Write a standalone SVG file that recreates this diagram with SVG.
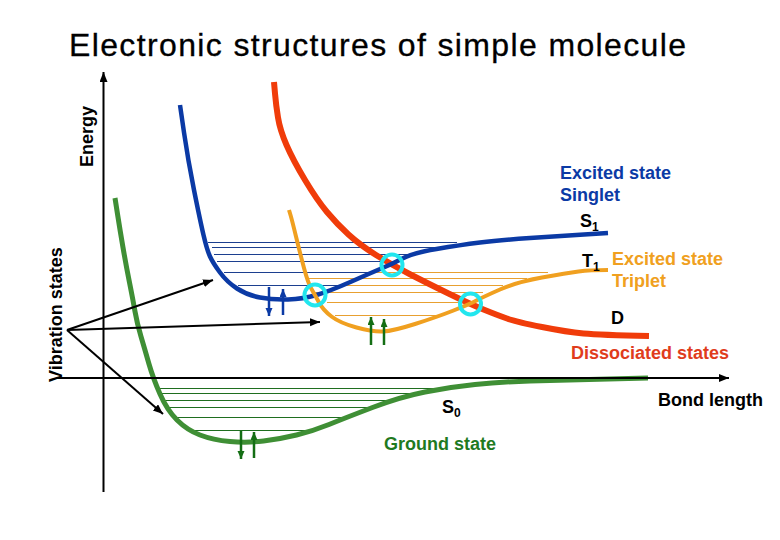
<svg xmlns="http://www.w3.org/2000/svg" width="780" height="540" viewBox="0 0 780 540">
<style>
text{font-family:"Liberation Sans",Arial,sans-serif;font-weight:bold;font-size:18px}
.t{font-weight:normal;font-size:32px;fill:#000;stroke:#000;stroke-width:.3}
.k{fill:#000}
.b{fill:#0b3aa5}.o{fill:#f0a020}.r{fill:#e03c1c}.g{fill:#1f7a1f}
.s{font-size:12px}
.curve{fill:none;stroke-linecap:butt;stroke-linejoin:round}
.lv{stroke-width:1;fill:none}
.ax{stroke:#000;stroke-width:2;fill:none}
.ring{fill:none;stroke:#22e6ee;stroke-width:4}
</style>
<defs>
<marker id="ah" markerUnits="userSpaceOnUse" markerWidth="12" markerHeight="10" refX="10" refY="4" orient="auto"><path d="M0 0L10 4L0 8Z" fill="#000"/></marker>
<marker id="ab" markerUnits="userSpaceOnUse" markerWidth="10" markerHeight="10" refX="8" refY="3.5" orient="auto"><path d="M0 0L8 3.5L0 7Z" fill="#0b3aa5"/></marker>
<marker id="ag" markerUnits="userSpaceOnUse" markerWidth="10" markerHeight="10" refX="8" refY="3.5" orient="auto"><path d="M0 0L8 3.5L0 7Z" fill="#146e14"/></marker>
</defs>
<g id="title"><text class="t" x="69" y="56" textLength="617" lengthAdjust="spacing">Electronic structures of simple molecule</text></g>
<g id="levels">
<path class="lv" stroke="#e8a030" d="M305 272.500H548M307 278.500H527M310 285.500H503M315 292.500H483M327 302.500H465M335 315.500H437"/>
<path class="lv" stroke="#1f6e1f" d="M158 388.500H447M160 393.500H420M162 400.500H395M166 407.500H375M172 417.500H345M193 430.500H310"/>
<path class="lv" stroke="#1c3f8f" d="M208 242.500H457M212 247.500H440M214 254.500H412M217 261.500H395M224 272.500H375M238 285.500H340"/>
</g>
<g id="curves">
<path id="green-curve" class="curve" stroke="#3f8f35" stroke-width="5" d="M115 198L117.500 214Q120 230 123 247.500Q126 265 129.500 282.500Q133 300 135 311.500Q137 323 141 336.500Q145 350 149 364Q153 378 160 394Q167 410 177 420Q187 430 200 435Q213 440 230 441.500Q247 443 263.500 441Q280 439 296.500 435Q313 431 329 424.500Q345 418 372.500 407.500Q400 397 425 392Q450 387 475 384.500Q500 382 530 381Q560 380 648 378"/>
<path id="red-curve" class="curve" stroke="#f03c0a" stroke-width="6" d="M274 82L275 93.500Q276 105 278 117.500Q280 130 286.500 145Q293 160 305 180Q317 200 327 212Q337 224 348.500 234.500Q360 245 376 255Q392 265 409.500 274Q427 283 448.500 293.500Q470 304 483.500 309.500Q497 315 507 318.500Q517 322 542 327Q567 332 583.500 333.500Q600 335 649 336"/>
<path id="blue-curve" class="curve" stroke="#0b3aa5" stroke-width="4.500" d="M180 105L184 132.500Q188 160 194 190Q200 220 203.500 235Q207 250 210 256.500Q213 263 220 272.500Q227 282 237 288.500Q247 295 260 297.500Q273 300 288 299.500Q303 299 316.500 295Q330 291 351.500 281.500Q373 272 382.500 268Q392 264 402.500 258.500Q413 253 436.500 249Q460 245 480 242.500Q500 240 530 238Q560 236 584 234.500L608 233"/>
<path id="orange-curve" class="curve" stroke="#f0a020" stroke-width="4" d="M289 210L290.500 215Q292 220 296 236.500Q300 253 304 268Q308 283 311.500 289Q315 295 319 302.500Q323 310 331.500 316.500Q340 323 356.500 327.500Q373 332 383 331.500Q393 331 415 324Q437 317 453.500 310.500Q470 304 476.500 300.500Q483 297 500 289.500Q517 282 542 277.500Q567 273 578.500 271.500Q590 270 608 270"/>
</g>
<g id="rings">
<circle class="ring" cx="392" cy="265" r="10.500"/>
<circle class="ring" cx="315" cy="295" r="10.500"/>
<circle class="ring" cx="470.500" cy="304" r="10.500"/>
</g>
<g id="connectors">
<path class="ax" marker-end="url(#ah)" d="M103.500 492V72"/>
<path class="ax" marker-end="url(#ah)" d="M57 378H729"/>
<path class="ax" marker-end="url(#ah)" d="M67 330L213 280"/>
<path class="ax" marker-end="url(#ah)" d="M67 330L320 322"/>
<path class="ax" marker-end="url(#ah)" d="M67 330L163 414"/>
<g stroke-width="2.500" fill="none">
<path stroke="#0b3aa5" marker-end="url(#ab)" d="M269 287V316"/>
<path stroke="#0b3aa5" marker-end="url(#ab)" d="M283 315V289"/>
<path stroke="#146e14" marker-end="url(#ag)" d="M371 345V317"/>
<path stroke="#146e14" marker-end="url(#ag)" d="M384 345V319"/>
<path stroke="#146e14" marker-end="url(#ag)" d="M241 431V459"/>
<path stroke="#146e14" marker-end="url(#ag)" d="M254 458V432"/>
</g>
</g>
<g id="labels">
<text class="k" transform="translate(93 167) rotate(-90)">Energy</text>
<text class="k" transform="translate(62 382) rotate(-90)">Vibration states</text>
<text class="b" x="560" y="179">Excited state</text>
<text class="b" x="560" y="201">Singlet</text>
<text class="k" x="580" y="227">S<tspan class="s" dy="4">1</tspan></text>
<text class="k" x="582" y="267">T<tspan class="s" dy="4">1</tspan></text>
<text class="o" x="612" y="265">Excited state</text>
<text class="o" x="612" y="287">Triplet</text>
<text class="k" x="611" y="324">D</text>
<text class="r" x="571" y="359">Dissociated states</text>
<text class="k" x="658" y="406">Bond length</text>
<text class="k" x="442" y="413">S<tspan class="s" dy="4">0</tspan></text>
<text class="g" x="384" y="450">Ground state</text>
</g>
</svg>
